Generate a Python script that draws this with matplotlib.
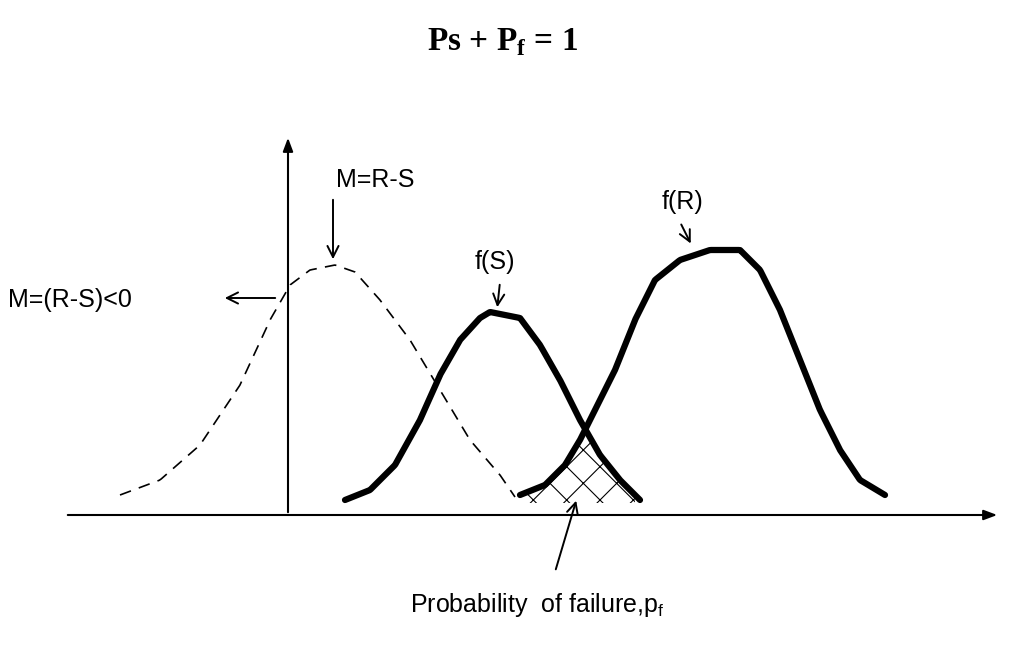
import matplotlib
matplotlib.use("Agg")
import matplotlib.pyplot as plt
import numpy as np

# Curve shapes (diagram units: x right, y down, as in the picture)
m_x = [120,160,200,240,270,290,310,335,355,380,410,440,470,500,515]
m_y = [495,480,445,385,320,285,270,265,272,300,340,390,440,475,497]
s_x = [345,370,395,420,440,460,480,490,520,540,560,580,600,620,640]
s_y = [500,490,465,420,375,340,318,312,318,345,380,420,455,480,500]
r_x = [520,545,565,580,595,615,635,655,680,710,740,760,780,800,820,840,860,885]
r_y = [495,485,465,440,410,370,320,280,260,250,250,270,310,360,410,450,480,495]

fig = plt.figure(figsize=(10.22, 6.53), dpi=100)
ax = fig.add_axes([0, 0, 1, 1])
ax.set_xlim(0, 1022); ax.set_ylim(653, 0); ax.axis('off')

def smooth(x, y):
    t = np.linspace(0, len(x) - 1, 300)
    i = np.arange(len(x))
    return np.interp(t, i, x), np.interp(t, i, y)

ax.plot(*smooth(m_x, m_y), 'k--', lw=1.2, dashes=(7, 5))
ax.plot(*smooth(s_x, s_y), 'k-', lw=4.5, solid_capstyle='round', solid_joinstyle='round')
ax.plot(*smooth(r_x, r_y), 'k-', lw=4.5, solid_capstyle='round', solid_joinstyle='round')

# hatched overlap region
plt.rcParams['hatch.linewidth'] = 0.8
xx = np.linspace(525, 635, 100)
top = np.maximum(np.interp(xx, s_x, s_y), np.interp(xx, r_x, r_y))
ax.fill_between(xx, top, 503, where=top < 503, facecolor='none', edgecolor='k',
                hatch='x', lw=0)

ap = dict(arrowstyle='-|>,head_width=0.3,head_length=0.8', color='k', lw=1.5)
ax.annotate('', xy=(1000, 515), xytext=(65, 515), arrowprops=ap)
ax.annotate('', xy=(288, 135), xytext=(288, 515), arrowprops=ap)

ap2 = dict(arrowstyle='->,head_width=0.4,head_length=0.8', color='k', lw=1.4)
fs = 18
fam = ['Liberation Sans', 'DejaVu Sans']
ax.text(375, 180, 'M=R-S', ha='center', va='center', fontsize=fs, family=fam)
ax.annotate('', xy=(333, 262), xytext=(333, 197), arrowprops=ap2)
ax.text(8, 300, 'M=(R-S)<0', ha='left', va='center', fontsize=fs, family=fam)
ax.annotate('', xy=(222, 298), xytext=(278, 298), arrowprops=ap2)
ax.text(495, 262, 'f(S)', ha='center', va='center', fontsize=fs, family=fam)
ax.annotate('', xy=(497, 310), xytext=(500, 282), arrowprops=ap2)
ax.text(682, 202, 'f(R)', ha='center', va='center', fontsize=fs, family=fam)
ax.annotate('', xy=(692, 246), xytext=(680, 222), arrowprops=ap2)
ax.text(410, 605, 'Probability  of failure,p$_\\mathregular{f}$', ha='left', va='center',
        fontsize=fs, family=fam)
ax.annotate('', xy=(577, 498), xytext=(555, 572), arrowprops=ap2)

ax.text(503, 42, 'Ps + P$_\\mathregular{f}$ = 1', ha='center', va='center', fontsize=24,
        fontweight='bold', family=['Liberation Serif', 'DejaVu Serif'])

fig.savefig('out.png', dpi=100)
